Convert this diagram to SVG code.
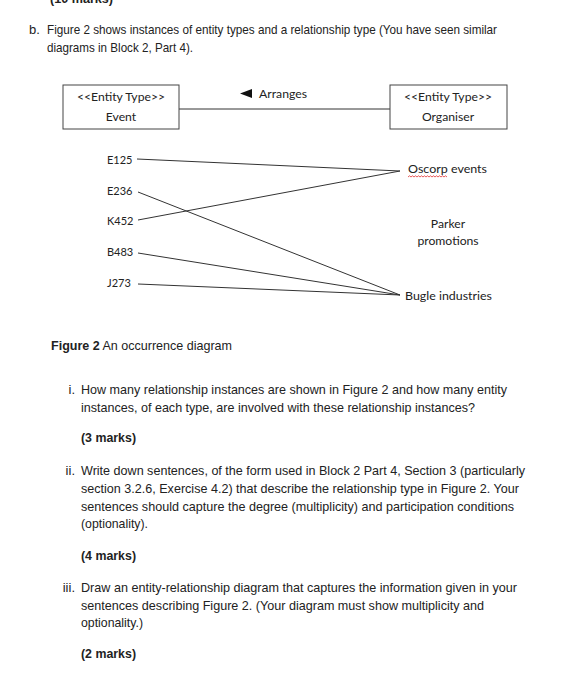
<svg xmlns="http://www.w3.org/2000/svg" width="562" height="676" viewBox="0 0 562 676">
<style>
.t{font-family:"Liberation Sans",Arial,sans-serif;font-size:13px;fill:#222}
.b{font-weight:bold}
.d{font-family:Lato,"Open Sans",sans-serif;font-size:12.2px;fill:#222}
.e{font-family:Lato,"Open Sans",sans-serif;font-size:11px;fill:#222}
.box{fill:#fff;stroke:#444;stroke-width:1}
.ln{stroke:#333;stroke-width:1;fill:none}
</style>
<rect width="562" height="676" fill="#fff"/>
<text class="t b" x="50" y="3" textLength="63" lengthAdjust="spacingAndGlyphs">(10 marks)</text>
<text class="t" x="29" y="34">b.</text>
<text class="t" x="47" y="34" textLength="450" lengthAdjust="spacingAndGlyphs">Figure 2 shows instances of entity types and a relationship type (You have seen similar</text>
<text class="t" x="47" y="52" textLength="146" lengthAdjust="spacingAndGlyphs">diagrams in Block 2, Part 4).</text>

<g id="connectors">
<line class="ln" x1="179" y1="109" x2="390" y2="109"/>
<line class="ln" x1="137" y1="159" x2="400" y2="171"/>
<line class="ln" x1="138" y1="192" x2="400" y2="295"/>
<line class="ln" x1="138" y1="220" x2="400" y2="171"/>
<line class="ln" x1="138" y1="253" x2="400" y2="295"/>
<line class="ln" x1="138" y1="284" x2="400" y2="295"/>
</g>
<g id="arranges">
<polygon points="240,93.5 252,89 252,98" fill="#111"/>
<text class="d" x="259" y="98" textLength="48" lengthAdjust="spacingAndGlyphs">Arranges</text>
</g>
<g id="event">
<rect class="box" x="63" y="85" width="116" height="44"/>
<text class="d" x="77" y="101" textLength="88" lengthAdjust="spacingAndGlyphs">&lt;&lt;Entity Type&gt;&gt;</text>
<text class="d" x="121" y="121" text-anchor="middle">Event</text>
</g>
<g id="organiser">
<rect class="box" x="390" y="85" width="117" height="44"/>
<text class="d" x="404" y="101" textLength="88" lengthAdjust="spacingAndGlyphs">&lt;&lt;Entity Type&gt;&gt;</text>
<text class="d" x="448" y="121" text-anchor="middle">Organiser</text>
</g>
<g id="e125"><text class="e" x="107" y="164">E125</text></g>
<g id="e236"><text class="e" x="107" y="195">E236</text></g>
<g id="k452"><text class="e" x="107" y="225">K452</text></g>
<g id="b483"><text class="e" x="107" y="256">B483</text></g>
<g id="j273"><text class="e" x="107" y="287">J273</text></g>
<g id="oscorp">
<text class="d" x="408" y="173" textLength="79" lengthAdjust="spacingAndGlyphs">Oscorp events</text>
<path d="M408,177 l1.5,-1.2 l1.5,1.2 l1.5,-1.2 l1.5,1.2 l1.5,-1.2 l1.5,1.2 l1.5,-1.2 l1.5,1.2 l1.5,-1.2 l1.5,1.2 l1.5,-1.2 l1.5,1.2 l1.5,-1.2 l1.5,1.2 l1.5,-1.2 l1.5,1.2 l1.5,-1.2 l1.5,1.2 l1.5,-1.2 l1.5,1.2 l1.5,-1.2 l1.5,1.2 l1.5,-1.2 l1.5,1.2 l1.5,-1.2 l1.5,1.2" fill="none" stroke="#e03030" stroke-width="0.8"/>
</g>
<g id="parker">
<text class="d" x="448" y="228" text-anchor="middle">Parker</text>
<text class="d" x="448" y="245" text-anchor="middle">promotions</text>
</g>
<g id="bugle"><text class="d" x="405" y="300" textLength="87" lengthAdjust="spacingAndGlyphs">Bugle industries</text></g>

<text class="t" x="51" y="350" textLength="181" lengthAdjust="spacingAndGlyphs"><tspan class="b">Figure 2</tspan> An occurrence diagram</text>

<text class="t" x="75" y="394" text-anchor="end">i.</text>
<text class="t" x="81" y="394" textLength="426" lengthAdjust="spacingAndGlyphs">How many relationship instances are shown in Figure 2 and how many entity</text>
<text class="t" x="81" y="412" textLength="394" lengthAdjust="spacingAndGlyphs">instances, of each type, are involved with these relationship instances?</text>
<text class="t b" x="81" y="442" textLength="55" lengthAdjust="spacingAndGlyphs">(3 marks)</text>

<text class="t" x="75" y="475" text-anchor="end">ii.</text>
<text class="t" x="81" y="475" textLength="444" lengthAdjust="spacingAndGlyphs">Write down sentences, of the form used in Block 2 Part 4, Section 3 (particularly</text>
<text class="t" x="81" y="493" textLength="438" lengthAdjust="spacingAndGlyphs">section 3.2.6, Exercise 4.2) that describe the relationship type in Figure 2. Your</text>
<text class="t" x="81" y="511" textLength="433" lengthAdjust="spacingAndGlyphs">sentences should capture the degree (multiplicity) and participation conditions</text>
<text class="t" x="81" y="528" textLength="67" lengthAdjust="spacingAndGlyphs">(optionality).</text>
<text class="t b" x="81" y="560" textLength="55" lengthAdjust="spacingAndGlyphs">(4 marks)</text>

<text class="t" x="75" y="592" text-anchor="end">iii.</text>
<text class="t" x="81" y="592" textLength="436" lengthAdjust="spacingAndGlyphs">Draw an entity-relationship diagram that captures the information given in your</text>
<text class="t" x="81" y="610" textLength="403" lengthAdjust="spacingAndGlyphs">sentences describing Figure 2. (Your diagram must show multiplicity and</text>
<text class="t" x="81" y="627" textLength="62" lengthAdjust="spacingAndGlyphs">optionality.)</text>
<text class="t b" x="81" y="658" textLength="55" lengthAdjust="spacingAndGlyphs">(2 marks)</text>
</svg>
